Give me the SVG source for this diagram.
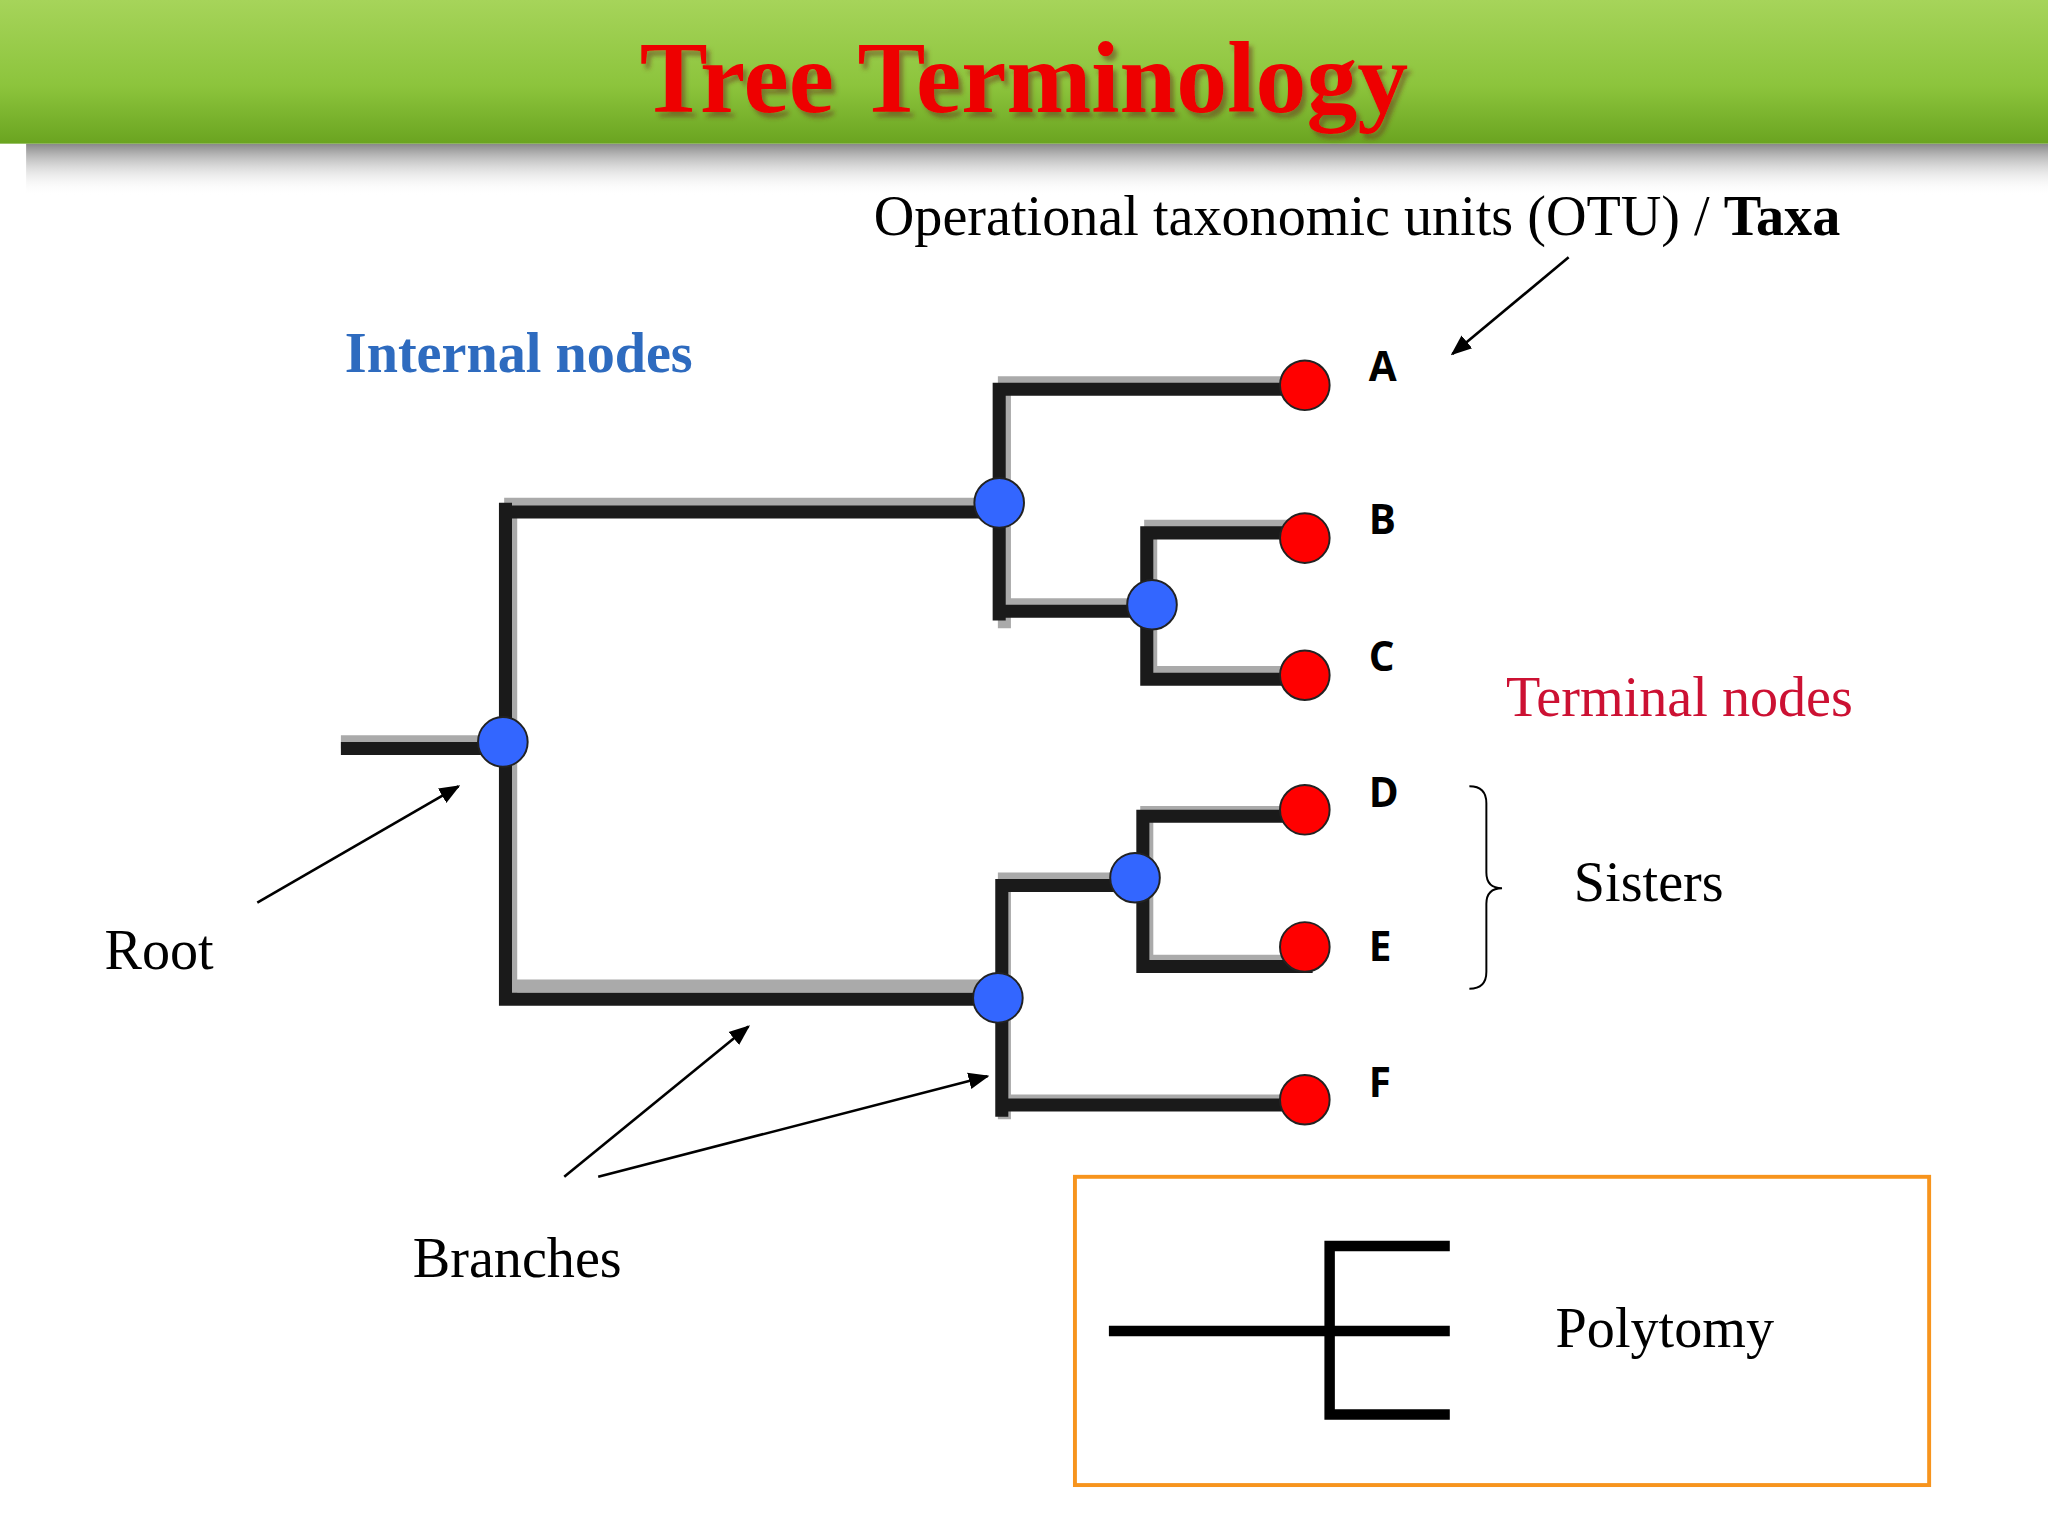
<svg xmlns="http://www.w3.org/2000/svg" width="2048" height="1536" viewBox="0 0 2048 1536">
<defs>
<linearGradient id="hg" x1="0" y1="0" x2="0" y2="1"><stop offset="0" stop-color="#a6d45a"/><stop offset="0.6" stop-color="#8cc43c"/><stop offset="1" stop-color="#6aa420"/></linearGradient>
<linearGradient id="sh" x1="0" y1="0" x2="0" y2="1"><stop offset="0" stop-color="#888"/><stop offset="1" stop-color="#fff" stop-opacity="0"/></linearGradient>
<filter id="ds" x="-5%" y="-20%" width="110%" height="140%"><feDropShadow dx="3" dy="4" stdDeviation="1.5" flood-color="#6b3a1a" flood-opacity="0.55"/></filter>
<marker id="ar" viewBox="0 0 10 10" refX="9" refY="5" markerWidth="8" markerHeight="8" orient="auto"><path d="M0,1 L10,5 L0,9 z" fill="#000"/></marker>
<style>
.br{stroke:#1a1a1a;stroke-width:10;fill:none;stroke-linecap:square}
.bs{stroke:#aaa;stroke-width:10;fill:none;stroke-linecap:square}
.in{fill:#3366ff;stroke:#222;stroke-width:1.5}
.tn{fill:#ff0000;stroke:#222;stroke-width:1.5}
.lb{font-family:"Open Sans","DejaVu Sans",sans-serif;font-weight:bold;font-size:31px;fill:#000}
.sf{font-family:"Liberation Serif",serif;font-size:43px;fill:#000}
.ar{stroke:#000;stroke-width:2;marker-end:url(#ar)}
</style>
</defs>
<rect width="2048" height="1536" fill="#fff"/>
<g transform="scale(1.30612)">
<g id="header">
<rect x="20" y="110" width="1548" height="40" fill="url(#sh)"/>
<rect x="0" y="0" width="1568" height="110" fill="url(#hg)"/>
<text x="784" y="86" text-anchor="middle" font-family="Liberation Serif,serif" font-weight="bold" font-size="78" fill="#ee0000" filter="url(#ds)">Tree Terminology</text>
</g>
<g id="connectors">
<path class="bs" d="M266,568 H385 M391,386 V760 M391,386 H762 M769,293 V476 M769,293 H1000 M769,463 H880 M881,403 V515 M881,403 H1000 M881,515 H1000 M391,755 H762 M769,673 V852 M769,673 H868 M878,622 V736 M878,622 H1000 M878,736 H1000 M769,843 H1000"/>
<path class="br" d="M266,573 H385 M387,390 V765 M387,392 H764 M765,298 V470 M765,298 H985 M765,468 H880 M878,408 V520 M878,408 H985 M878,520 H985 M387,765 H765 M767,678 V850 M767,678 H868 M875,625 V740 M875,625 H985 M875,740 H1000 M767,846 H985"/>
<path class="ar" d="M1201,197 L1112,271"/>
<path class="ar" d="M197,691 L351,602"/>
<path class="ar" d="M432,901 L573,786"/>
<path class="ar" d="M458,901 L756,824"/>
<path d="M1125,602 Q1138,602 1138,615 V668 Q1138,680 1150,680 Q1138,680 1138,692 V744 Q1138,757 1125,757" fill="none" stroke="#000" stroke-width="1.5"/>
</g>
<g id="nodes">
<circle id="n-root" class="in" cx="385" cy="568" r="19"/>
<circle id="n-top" class="in" cx="765" cy="385" r="19"/>
<circle id="n-bc" class="in" cx="882" cy="463" r="19"/>
<circle id="n-bot" class="in" cx="764" cy="764" r="19"/>
<circle id="n-de" class="in" cx="869" cy="672" r="19"/>
<circle id="t-a" class="tn" cx="999" cy="295" r="19"/>
<circle id="t-b" class="tn" cx="999" cy="412" r="19"/>
<circle id="t-c" class="tn" cx="999" cy="517" r="19"/>
<circle id="t-d" class="tn" cx="999" cy="620" r="19"/>
<circle id="t-e" class="tn" cx="999" cy="725" r="19"/>
<circle id="t-f" class="tn" cx="999" cy="842" r="19"/>
</g>
<g id="labels">
<text class="lb" x="1048" y="292">A</text>
<text class="lb" x="1048" y="409">B</text>
<text class="lb" x="1048" y="514">C</text>
<text class="lb" x="1048" y="618">D</text>
<text class="lb" x="1048" y="736">E</text>
<text class="lb" x="1048" y="840">F</text>
<text class="sf" x="669" y="180">Operational taxonomic units (OTU) / <tspan font-weight="bold">Taxa</tspan></text>
<text x="264" y="285" font-family="Liberation Serif,serif" font-weight="bold" font-size="43" fill="#2e6bbf">Internal nodes</text>
<text x="1153" y="548" font-family="Liberation Serif,serif" font-size="43" fill="#cc1133">Terminal nodes</text>
<text class="sf" x="1205" y="690">Sisters</text>
<text class="sf" x="80" y="742">Root</text>
<text class="sf" x="316" y="978">Branches</text>
</g>
<g id="polytomy">
<rect x="823" y="901" width="654" height="236" fill="none" stroke="#f7941d" stroke-width="3"/>
<path d="M849,1019 H1110 M1018,952 V1086 M1014,954 H1110 M1014,1083 H1110" stroke="#000" stroke-width="8" fill="none"/>
<text class="sf" x="1191" y="1031">Polytomy</text>
</g>
</g>
</svg>
